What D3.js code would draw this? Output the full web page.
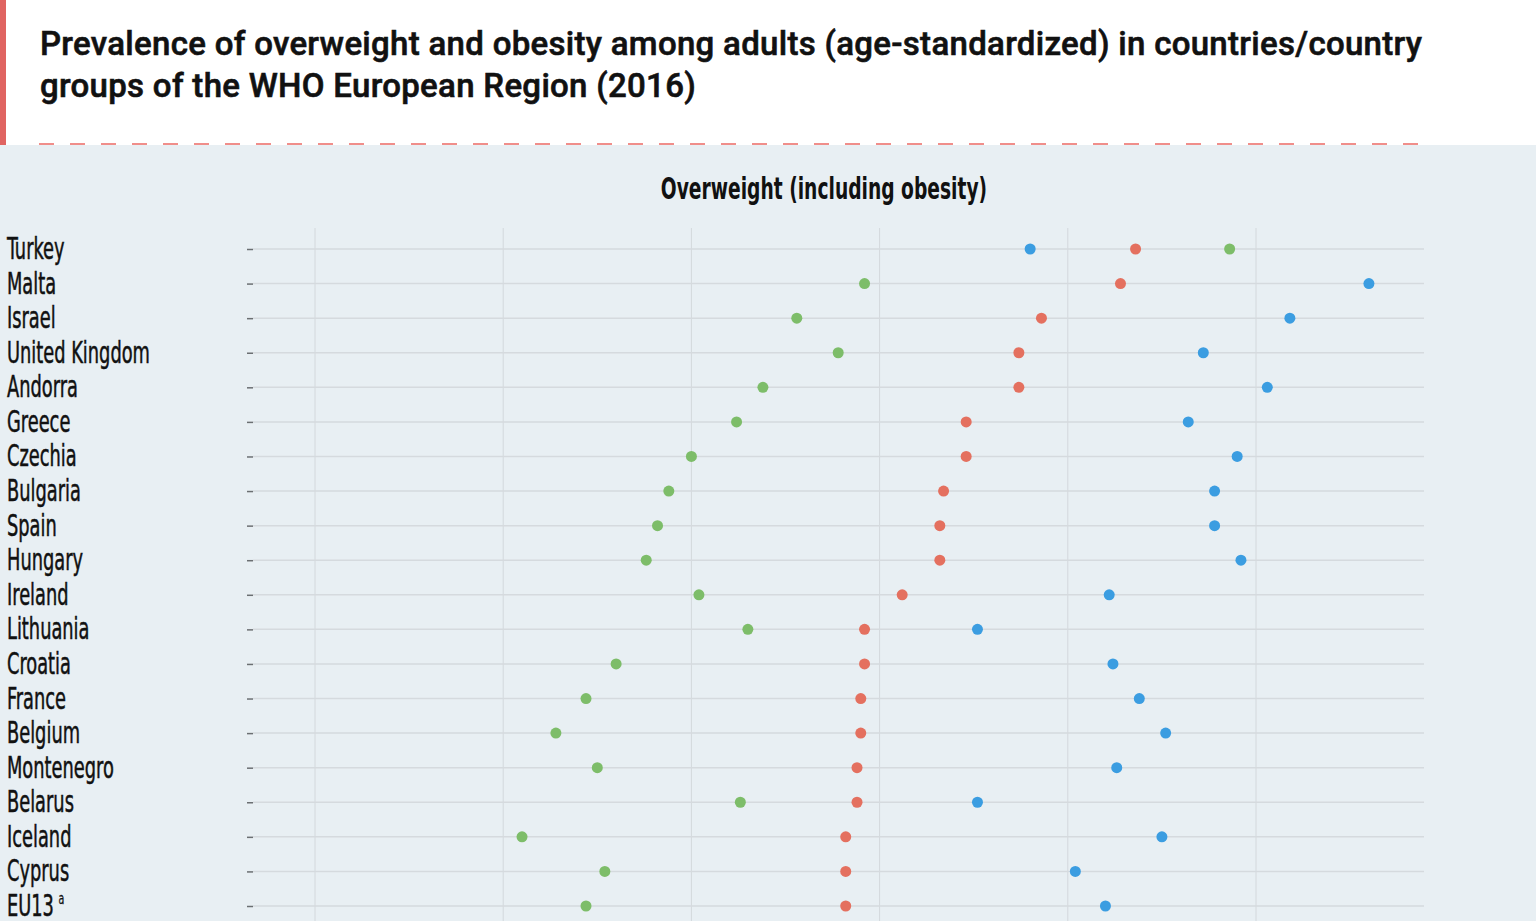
<!DOCTYPE html>
<html>
<head>
<meta charset="utf-8">
<script src="https://cdn.jsdelivr.net/npm/d3@7"></script>
<style>
  html, body { margin: 0; padding: 0; background: #fff; }
  svg { display: block; }
</style>
</head>
<body>
<svg id="chart" width="1536" height="921"></svg>
<script>
"use strict";

var countries = ["Turkey", "Malta", "Israel", "United Kingdom", "Andorra", "Greece", "Czechia",
  "Bulgaria", "Spain", "Hungary", "Ireland", "Lithuania", "Croatia", "France", "Belgium",
  "Montenegro", "Belarus", "Iceland", "Cyprus", "EU13"];

// age-standardized prevalence, %
var men   = [64.0, 73.0, 70.9, 68.6, 70.3, 68.2, 69.5, 68.9, 68.9, 69.6, 66.1, 62.6, 66.2, 66.9, 67.6, 66.3, 62.6, 67.5, 65.2, 66.0];
var both  = [66.8, 66.4, 64.3, 63.7, 63.7, 62.3, 62.3, 61.7, 61.6, 61.6, 60.6, 59.6, 59.6, 59.5, 59.5, 59.4, 59.4, 59.1, 59.1, 59.1];
var women = [69.3, 59.6, 57.8, 58.9, 56.9, 56.2, 55.0, 54.4, 54.1, 53.8, 55.2, 56.5, 53.0, 52.2, 51.4, 52.5, 56.3, 50.5, 52.7, 52.2];

var gridTicks = [45, 50, 55, 60, 65, 70];

var titleLines = ["Prevalence of overweight and obesity among adults (age-standardized) in countries/country",
  "groups of the WHO European Region (2016)"];
var panelTitle = "Overweight (including obesity)";

var series = [
  {name: "Men", values: men, color: "#3b9de1"},
  {name: "Both sexes", values: both, color: "#e4705f"},
  {name: "Women", values: women, color: "#7dbd69"}
];

var W = 1536, H = 921;
var condensed = "'Liberation Sans Narrow', 'DejaVu Sans Condensed', sans-serif";
var svg = d3.select("#chart");

// header
svg.append("rect").attr("x", 0).attr("y", 0).attr("width", W).attr("height", 145).attr("fill", "#fff");
svg.append("rect").attr("x", 0).attr("y", 0).attr("width", 6).attr("height", 145).attr("fill", "#e06461");

var title = svg.append("text")
    .attr("font-family", "Roboto, 'DejaVu Sans', sans-serif")
    .attr("font-weight", 500)
    .attr("font-size", 33)
    .attr("letter-spacing", 0.3)
    .attr("fill", "#111")
    .attr("stroke", "#111")
    .attr("stroke-width", 0.6);
titleLines.forEach(function(t, i) {
  title.append("tspan").attr("x", 40).attr("y", 55 + i * 42).text(t);
});

// panel background
svg.append("rect").attr("x", 0).attr("y", 145).attr("width", W).attr("height", H - 145).attr("fill", "#e8eff3");

svg.append("line")
    .attr("x1", 39).attr("x2", 1424).attr("y1", 144).attr("y2", 144)
    .attr("stroke", "#f08e8a").attr("stroke-width", 2)
    .attr("stroke-dasharray", "15,16");

svg.append("text")
    .attr("x", 824).attr("y", 199)
    .attr("text-anchor", "middle")
    .attr("font-family", condensed)
    .attr("font-weight", "bold")
    .attr("font-size", 31)
    .attr("fill", "#111")
    .attr("transform", "translate(824,0) scale(0.67,1) translate(-824,0)")
    .text(panelTitle);

var plotLeft = 253, plotRight = 1424, plotTop = 228;

var x = d3.scaleLinear().domain([45, 70]).range([315, 1256]);
var y = d3.scalePoint().domain(countries).range([249, 906]);

// vertical grid
svg.append("g").selectAll("line")
  .data(gridTicks).join("line")
    .attr("x1", function(d) { return x(d); })
    .attr("x2", function(d) { return x(d); })
    .attr("y1", plotTop).attr("y2", H)
    .attr("stroke", "#d3d8dc").attr("stroke-width", 1);

// row lines
svg.append("g").selectAll("line")
  .data(countries).join("line")
    .attr("x1", plotLeft).attr("x2", plotRight)
    .attr("y1", function(d) { return y(d); })
    .attr("y2", function(d) { return y(d); })
    .attr("stroke", "#d5dade").attr("stroke-width", 1.5);

// y axis (ticks only)
var yAxis = svg.append("g")
    .attr("transform", "translate(" + plotLeft + ",0)")
    .call(d3.axisLeft(y).tickSize(6).tickFormat(""));
yAxis.select(".domain").remove();
yAxis.selectAll(".tick line").attr("stroke", "#6b6f72").attr("stroke-width", 1.5);

// country labels
var sx = 0.66;
var labels = svg.append("g")
    .attr("transform", "scale(" + sx + ",1)")
    .attr("font-family", condensed)
    .attr("font-size", 30)
    .attr("fill", "#111")
    .attr("stroke", "#111")
    .attr("stroke-width", 0.5);
countries.forEach(function(c) {
  var t = labels.append("text")
      .attr("x", 7 / sx)
      .attr("y", y(c) + 10);
  if (c === "EU13") {
    t.append("tspan").text("EU13");
    t.append("tspan").attr("dx", 7).attr("dy", -12).attr("font-size", 16).attr("stroke-width", 0.3).text("a");
  } else {
    t.text(c);
  }
});

// dots
series.forEach(function(s) {
  svg.append("g").selectAll("circle")
    .data(s.values).join("circle")
      .attr("cx", function(d) { return x(d); })
      .attr("cy", function(d, i) { return y(countries[i]); })
      .attr("r", 5.5)
      .attr("fill", s.color);
});
</script>
</body>
</html>
